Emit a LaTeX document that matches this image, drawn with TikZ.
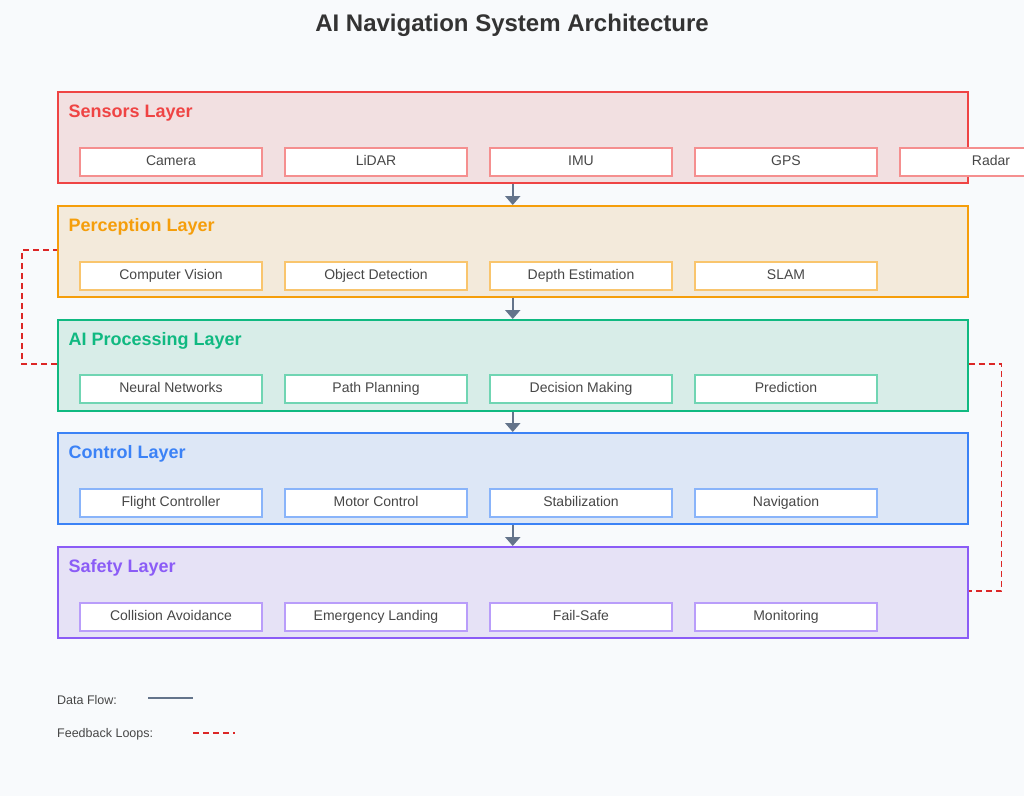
\documentclass[tikz,border=0pt]{standalone}
\usepackage{fontspec}
\setmainfont{Liberation Sans}
\usetikzlibrary{arrows.meta,positioning}
\definecolor{bg}{HTML}{F8FAFC}
\definecolor{flow}{HTML}{64748B}
\definecolor{fb}{HTML}{DC2626}
\definecolor{cS}{HTML}{EF4444}
\definecolor{cP}{HTML}{F59E0B}
\definecolor{cA}{HTML}{10B981}
\definecolor{cC}{HTML}{3B82F6}
\definecolor{cF}{HTML}{8B5CF6}
\tikzset{
  layer/.style={draw=#1, line width=1.5pt, fill=#1!12!bg!98!black, anchor=north west,
    minimum width=910pt, minimum height=91pt, inner sep=0pt},
  ltitle/.style={text=#1, font=\bfseries\fontsize{18}{22}\selectfont, anchor=west},
  item/.style={draw=#1!60!white, line width=1.3pt, fill=white, minimum width=182pt,
    minimum height=28pt, inner sep=0pt, text height=10.5pt, text depth=3pt,
    font=\fontsize{14}{17}\selectfont, text=black!72},
  flowarrow/.style={draw=flow, line width=2.2pt, -{Triangle[length=9pt,width=15pt]}},
  feedback/.style={draw=fb, line width=1.6pt, dash pattern=on 6pt off 4pt},
}
\begin{document}
\begin{tikzpicture}[x=1pt,y=-1pt]
\fill[bg] (0,0) rectangle (1024,796);
\useasboundingbox (0,0) rectangle (1024,796);
\node[font=\bfseries\fontsize{24}{28}\selectfont, text=black!80] (title) at (512,25) {AI Navigation System Architecture};

% layers
\foreach \key/\col/\y/\name in {sens/cS/91/Sensors Layer, perc/cP/205/Perception Layer,
    aip/cA/319/AI Processing Layer, ctrl/cC/432/Control Layer, safe/cF/546/Safety Layer}{
  \node[layer=\col] (\key) at (57,\y) {};
  \node[ltitle=\col] (\key-t) at (65,\y+22) {\name};
}

% components
\begin{scope}
\clip (0,0) rectangle (1024,796);
\foreach \lbl [count=\i] in {Camera, LiDAR, IMU, GPS, Radar}
  \node[item=cS] (sens-\i) at (171+205*\i-205,162) {\lbl};
\end{scope}
\foreach \lbl [count=\i] in {Computer Vision, Object Detection, Depth Estimation, SLAM}
  \node[item=cP] (perc-\i) at (171+205*\i-205,276) {\lbl};
\foreach \lbl [count=\i] in {Neural Networks, Path Planning, Decision Making, Prediction}
  \node[item=cA] (aip-\i) at (171+205*\i-205,389) {\lbl};
\foreach \lbl [count=\i] in {Flight Controller, Motor Control, Stabilization, Navigation}
  \node[item=cC] (ctrl-\i) at (171+205*\i-205,503) {\lbl};
\foreach \lbl [count=\i] in {Collision Avoidance, Emergency Landing, Fail-Safe, Monitoring}
  \node[item=cF] (safe-\i) at (171+205*\i-205,617) {\lbl};

% data flow
\draw[flowarrow] (sens.south) -- (perc.north);
\draw[flowarrow] (perc.south) -- (aip.north);
\draw[flowarrow] (aip.south) -- (ctrl.north);
\draw[flowarrow] (ctrl.south) -- (safe.north);

% feedback loops
\draw[feedback] ([yshift=-45pt]aip.north west) -- ++(-35,0) |- ([yshift=-45pt]perc.north west);
\draw[feedback] ([yshift=-45pt]aip.north east) -- ++(33,0) |- ([yshift=-45pt]safe.north east);

% legend
\node[anchor=west, font=\fontsize{12.5}{15}\selectfont, text=black!72, inner sep=0pt] (lg-flow) at (57,700) {Data Flow:};
\coordinate (lf-a) at (148,698); \coordinate (lf-b) at (193,698);
\draw[draw=flow, line width=1.6pt] (lf-a) -- (lf-b);
\node[anchor=west, font=\fontsize{12.5}{15}\selectfont, text=black!72, inner sep=0pt] (lg-fb) at (57,734) {Feedback Loops:};
\coordinate (lb-a) at (193,733); \coordinate (lb-b) at (235,733);
\draw[feedback, line width=2pt, dash pattern=on 6pt off 4pt] (lb-a) -- (lb-b);
\end{tikzpicture}
\end{document}
